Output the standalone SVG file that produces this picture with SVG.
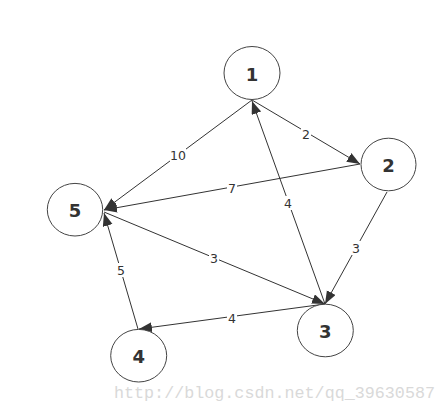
<svg xmlns="http://www.w3.org/2000/svg" width="447" height="413" viewBox="0 0 447 413">
<style>
.node ellipse{fill:#fff;stroke:#444;stroke-width:1}
.node text{font-family:"DejaVu Sans","Liberation Sans",sans-serif;font-weight:bold;font-size:18px;fill:#333;text-anchor:middle;dominant-baseline:central}
.edge line{stroke:#333;stroke-width:1;marker-end:url(#arr)}
.lbl rect{fill:#fff}
.lbl text{font-family:"DejaVu Sans","Liberation Sans",sans-serif;font-size:12.5px;fill:#333;text-anchor:middle;dominant-baseline:central}
.wm{font-family:"Liberation Mono",monospace;font-size:16.5px;fill:#d9d9d9}
</style>
<defs>
<marker id="arr" markerWidth="14" markerHeight="12" refX="13" refY="5" orient="auto" markerUnits="userSpaceOnUse">
<path d="M0,0 L13,5 L0,10 z" fill="#333"/>
</marker>
</defs>
<rect width="447" height="413" fill="#fff"/>
<g id="connectors">
<g class="edge" id="e12"><line x1="252" y1="100" x2="360" y2="164"/></g>
<g class="edge" id="e15"><line x1="252" y1="100" x2="104" y2="210"/></g>
<g class="edge" id="e25"><line x1="360" y1="164" x2="104" y2="210"/></g>
<g class="edge" id="e31"><line x1="325" y1="304" x2="252" y2="101"/></g>
<g class="edge" id="e23"><line x1="387" y1="192" x2="325" y2="304"/></g>
<g class="edge" id="e53"><line x1="104" y1="212" x2="325" y2="304"/></g>
<g class="edge" id="e45"><line x1="138" y1="329" x2="104" y2="213"/></g>
<g class="edge" id="e34"><line x1="325" y1="304" x2="139" y2="329"/></g>
<g class="lbl"><rect x="301" y="127" width="10" height="14"/><text x="306" y="134">2</text></g>
<g class="lbl"><rect x="170" y="148" width="16" height="14"/><text x="178" y="155">10</text></g>
<g class="lbl"><rect x="227" y="181" width="10" height="14"/><text x="232" y="188">7</text></g>
<g class="lbl"><rect x="283" y="196" width="10" height="14"/><text x="288" y="203">4</text></g>
<g class="lbl"><rect x="351" y="241" width="10" height="14"/><text x="356" y="248">3</text></g>
<g class="lbl"><rect x="209" y="251" width="10" height="14"/><text x="214" y="258">3</text></g>
<g class="lbl"><rect x="116" y="263" width="10" height="14"/><text x="121" y="270">5</text></g>
<g class="lbl"><rect x="227" y="311" width="10" height="14"/><text x="232" y="318">4</text></g>
</g>
<g class="node" id="n1"><ellipse cx="252" cy="73" rx="28" ry="26.5"/><text x="252" y="74">1</text></g>
<g class="node" id="n2"><ellipse cx="388.5" cy="164.5" rx="27.5" ry="26.3"/><text x="388.5" y="165.5">2</text></g>
<g class="node" id="n3"><ellipse cx="325.3" cy="330.5" rx="28" ry="26.3"/><text x="325.3" y="331.5">3</text></g>
<g class="node" id="n4"><ellipse cx="138.7" cy="355.7" rx="28" ry="26.3"/><text x="138.7" y="356.7">4</text></g>
<g class="node" id="n5"><ellipse cx="75" cy="209.7" rx="27.7" ry="26.3"/><text x="75" y="210.7">5</text></g>
<text class="wm" x="114" y="398" textLength="321" lengthAdjust="spacingAndGlyphs">http://blog.csdn.net/qq_39630587</text>
</svg>
